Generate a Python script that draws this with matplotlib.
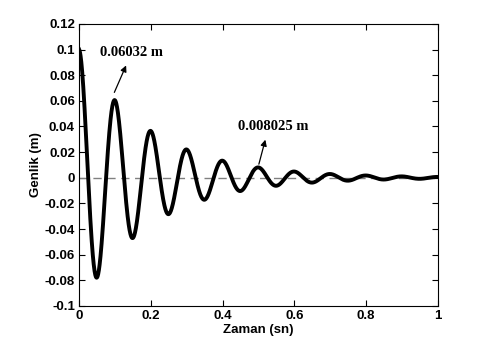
import numpy as np
import matplotlib.pyplot as plt

# okunan degerler (grafikten)
x0 = 0.1               # baslangic genligi (m)
period = 0.1           # salinim periyodu (sn)
peak_times = [0.1, 0.5]
peak_values = [0.06032, 0.008025]
peak_labels = ["0.06032 m", "0.008025 m"]
label_pos = [(0.146, 0.098), (0.54, 0.0396)]
arrow_tail = [(0.095, 0.0646), (0.499, 0.0085)]
arrow_head = [(0.134, 0.0896), (0.521, 0.0318)]

x_ticks = [0, 0.2, 0.4, 0.6, 0.8, 1]
y_ticks = [-0.1, -0.08, -0.06, -0.04, -0.02, 0, 0.02, 0.04, 0.06, 0.08, 0.1, 0.12]

# sonumleme: iki isaretli tepe arasindaki logaritmik azalma
n_periods = (peak_times[1] - peak_times[0]) / period
delta = np.log(peak_values[0] / peak_values[1]) / n_periods
sigma = delta / period
wd = 2 * np.pi / period

t = np.linspace(0, 1, 2000)
x = x0 * np.exp(-sigma * t) * np.cos(wd * t)

fig = plt.figure(figsize=(5.01, 3.57), dpi=100)
ax = fig.add_axes([0.158, 0.143, 0.716, 0.79])

ax.axhline(0, color="gray", ls="--", lw=1, dashes=(6, 4))
ax.plot(t, x, color="black", lw=2.8)

tick_font = dict(family="Liberation Sans", weight="bold", size=9.5)
ax.set_xlim(0, 1)
ax.set_ylim(-0.1, 0.12)
ax.set_xticks(x_ticks)
ax.set_xticklabels([f"{v:g}" for v in x_ticks], fontdict=tick_font)
ax.set_yticks(y_ticks)
ax.set_yticklabels([f"{v:g}" for v in y_ticks], fontdict=tick_font)
ax.tick_params(direction="in", length=4, top=True, right=True, pad=3)
ax.set_xlabel("Zaman (sn)", fontdict=tick_font, labelpad=1)
ax.set_ylabel("Genlik (m)", fontdict=tick_font, labelpad=2)

for lab, pos, tail, head in zip(peak_labels, label_pos, arrow_tail, arrow_head):
    ax.annotate("", xy=head, xytext=tail,
                arrowprops=dict(arrowstyle="-|>", color="black", lw=0.9,
                                mutation_scale=9))
    ax.text(pos[0], pos[1], lab, ha="center", va="center",
            family="Liberation Serif", weight="bold", size=10.5)

plt.savefig("out.png", dpi=100)
